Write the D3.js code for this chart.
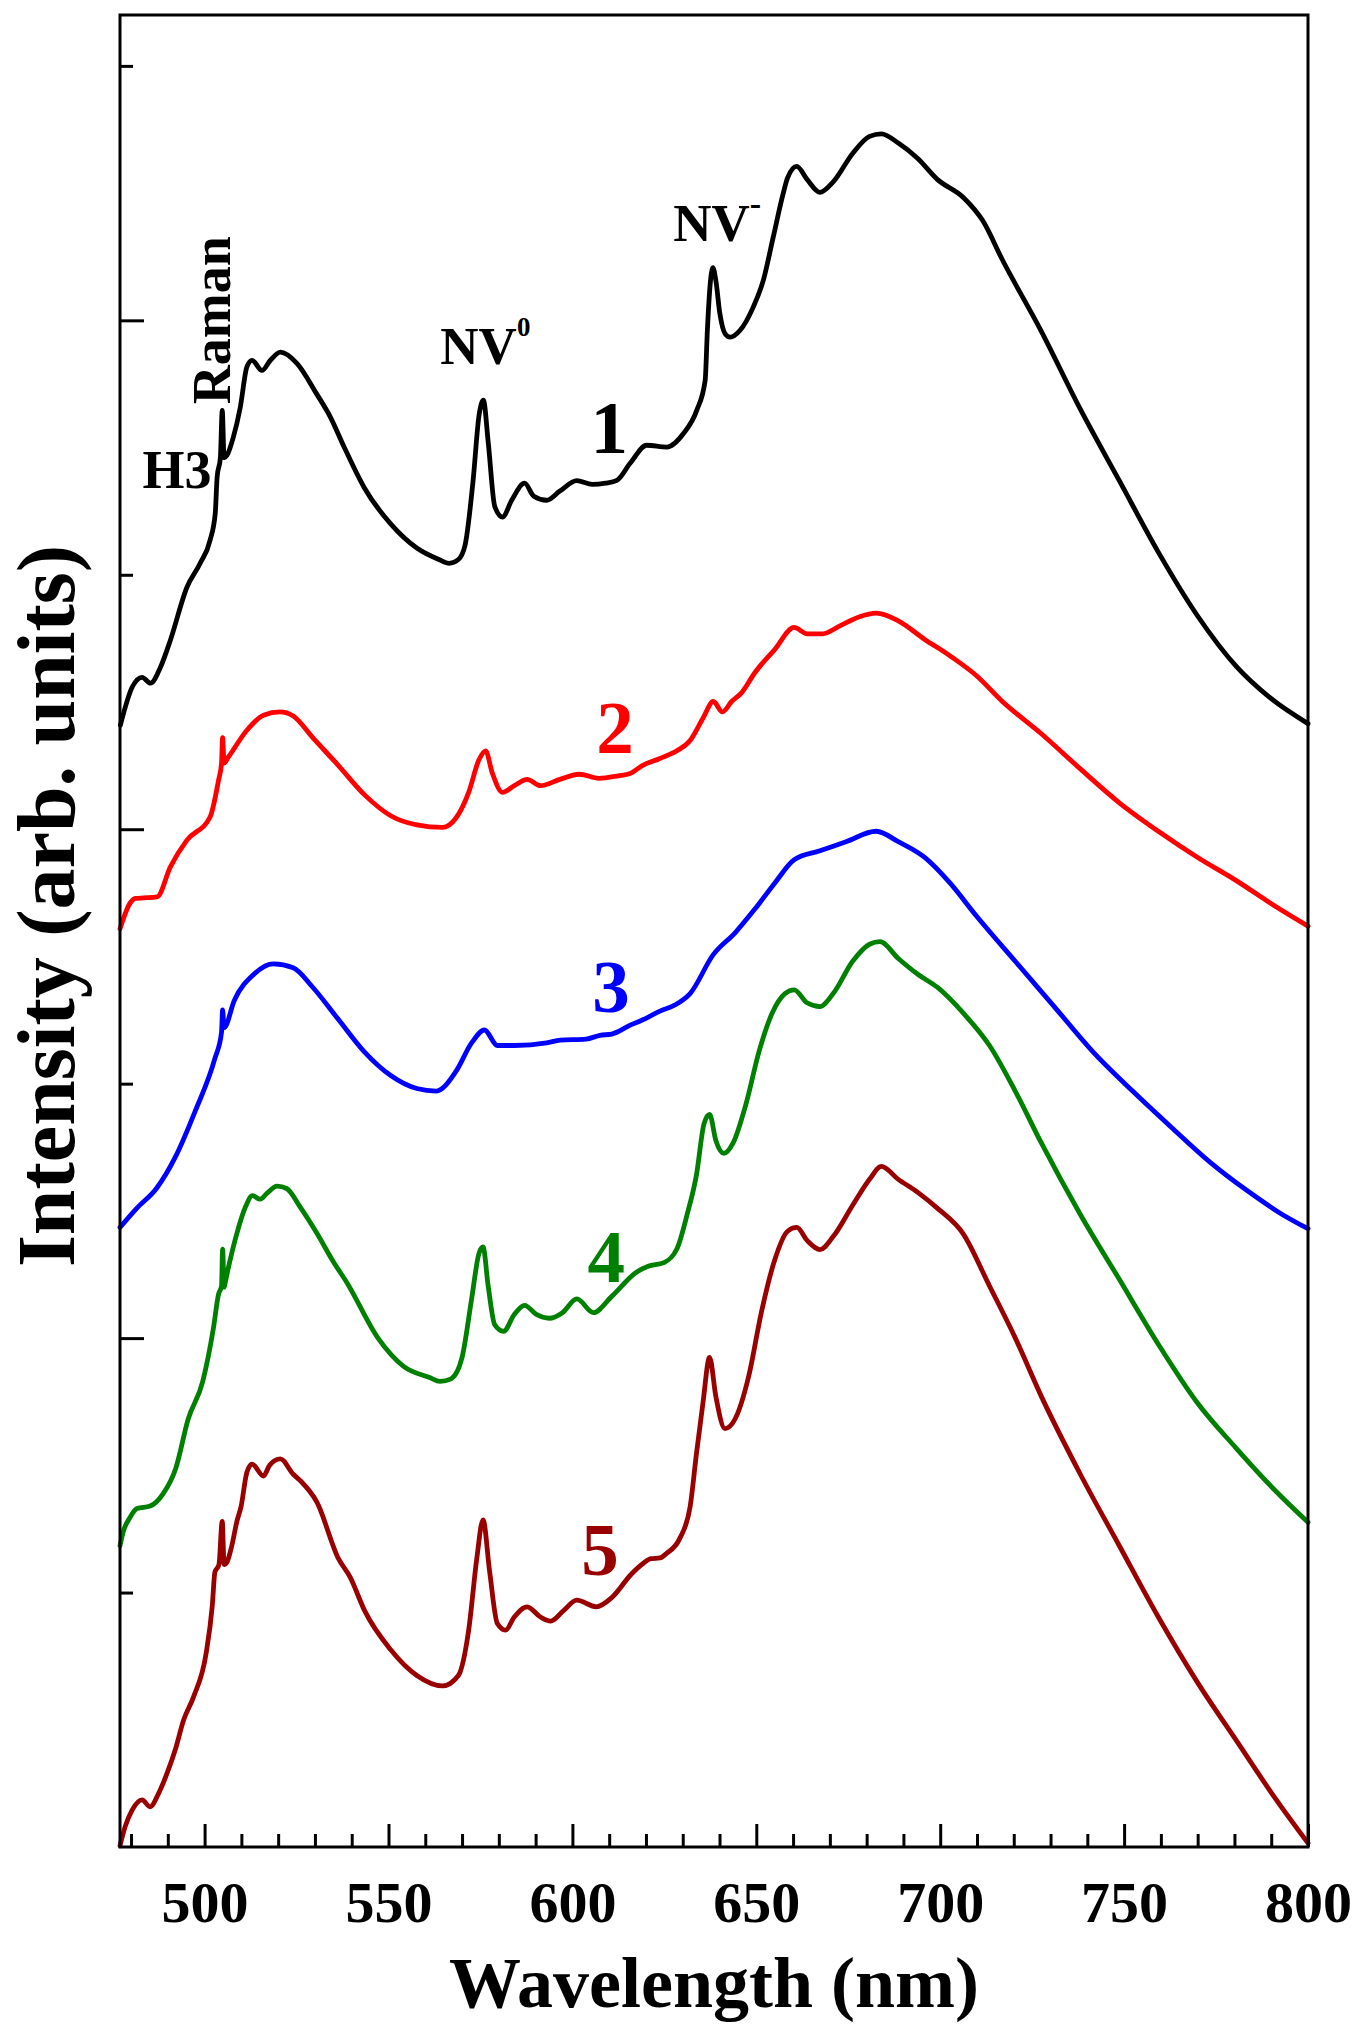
<!DOCTYPE html>
<html><head><meta charset="utf-8">
<script src="https://cdn.jsdelivr.net/npm/d3@7/dist/d3.min.js"></script>
<style>
html,body{margin:0;padding:0;background:#fff;}
text{font-family:"Liberation Serif","Times New Roman",serif;font-weight:bold;}
</style></head>
<body><svg id="chart" width="1364" height="2040"></svg>
<script>
// ---- data: [wavelength nm, intensity arb. units] ----
const series1 = [[477.1,44.09],[480.3,45.58],[483.0,45.97],[485.3,45.74],[488.0,46.37],[490.7,47.43],[495.2,49.51],[498.8,50.45],[501.5,51.36],[502.9,52.42],[503.4,53.83],[504.3,54.62],[504.8,56.46],[505.3,54.6],[506.1,54.70],[507.8,55.40],[509.7,56.58],[511.5,58.17],[512.9,58.43],[515.6,58.03],[517.9,58.43],[520.6,58.75],[525.1,58.31],[530.5,57.1],[534.2,56.2],[538.0,55.0],[543.5,53.4],[550.6,52.0],[557.7,51.05],[563.7,50.6],[566.5,50.45],[569.0,50.6],[570.8,51.15],[573.0,53.70],[574.6,56.25],[575.8,56.86],[577.1,55.23],[578.9,52.68],[581.0,52.27],[583.5,52.93],[587.0,53.60],[589.5,53.09],[593.0,52.93],[596.6,53.29],[601.2,53.70],[605.4,53.55],[609.0,53.60],[612.1,53.71],[615.7,54.38],[620.2,55.09],[625.7,55.02],[630.2,55.55],[633.8,56.46],[636.1,57.64],[636.7,59.61],[637.4,61.31],[638.2,62.07],[639.0,61.57],[640.1,60.26],[641.5,59.48],[642.9,59.34],[645.6,59.61],[649.2,60.53],[651.9,61.57],[654.6,63.27],[657.3,64.98],[658.5,65.60],[661.0,66.05],[663.8,65.54],[667.3,65.03],[670.9,65.44],[676.2,66.56],[680.8,67.23],[684.0,67.33],[688.6,66.97],[693.9,66.36],[699.2,65.54],[706.3,64.83],[711.6,63.91],[716.9,62.38],[727.5,59.57],[738.1,56.51],[748.7,53.70],[759.3,50.89],[769.9,48.4],[780.5,46.4],[789.4,45.2],[800.0,44.15]];
const series2 = [[477.0,36.09],[479.8,37.11],[481.2,37.28],[483.5,37.30],[487.1,37.34],[490.7,38.52],[495.2,39.57],[501.5,40.48],[503.8,41.93],[504.6,42.58],[504.9,43.6],[505.3,42.6],[506.5,42.84],[511.5,43.89],[516.0,44.48],[520.5,44.61],[524.1,44.45],[529.4,43.6],[536.4,42.5],[543.5,41.35],[550.6,40.53],[557.7,40.17],[564.7,40.07],[568.3,40.43],[571.8,41.45],[574.6,42.73],[576.4,43.08],[578.2,42.22],[581.0,41.45],[584.2,41.71],[587.7,41.96],[591.3,41.71],[596.6,41.96],[601.9,42.16],[607.2,42.00],[612.5,42.10],[615.7,42.19],[619.0,42.5],[623.8,42.78],[628.4,43.08],[632.0,43.49],[635.5,44.36],[638.3,45.02],[640.8,44.61],[643.3,45.02],[646.1,45.38],[649.6,46.15],[655.0,47.06],[660.3,47.93],[663.8,47.68],[668.0,47.68],[672.6,47.98],[677.9,48.34],[682.6,48.49],[688.6,48.19],[695.7,47.47],[702.7,46.81],[709.8,46.04],[716.9,45.02],[727.5,43.75],[738.1,42.37],[748.7,41.04],[759.3,39.92],[769.9,38.90],[780.5,37.98],[791.2,36.96],[800.0,36.19]];
const series3 = [[477.0,24.35],[481.6,25.11],[486.9,25.88],[492.2,27.16],[497.5,28.94],[502.8,30.99],[504.6,32.01],[504.9,32.9],[505.3,32.2],[508.1,33.28],[513.4,34.30],[518.7,34.71],[524.1,34.56],[529.4,33.79],[536.4,32.52],[543.5,31.24],[550.6,30.32],[557.7,29.81],[563.0,29.71],[568.3,30.47],[572.6,31.60],[576.1,32.11],[579.6,31.50],[584.2,31.50],[593.0,31.60],[596.7,31.71],[603.7,31.75],[607.5,31.90],[610.7,31.95],[615.7,32.30],[619.0,32.5],[623.8,32.85],[628.0,33.1],[632.0,33.54],[638.3,35.07],[644.3,35.94],[649.6,36.86],[655.0,37.88],[660.3,38.80],[667.3,39.15],[674.4,39.51],[682.6,39.92],[688.6,39.51],[695.7,38.90],[702.7,37.88],[709.8,36.60],[720.4,34.81],[731.0,33.03],[741.6,31.24],[752.3,29.71],[762.9,28.28],[773.5,26.90],[784.1,25.73],[793.0,24.86],[800.0,24.30]];
const series4 = [[477.0,11.84],[477.8,12.35],[479.8,12.97],[481.6,13.30],[485.2,13.40],[488.7,13.88],[492.2,14.9],[495.5,16.8],[499.5,18.3],[502.4,20.39],[503.8,21.73],[504.6,22.05],[504.9,23.5],[505.3,22.0],[505.6,22.18],[506.5,22.79],[508.8,24.13],[511.1,25.15],[513.0,25.6],[515.1,25.46],[517.0,25.7],[519.7,25.97],[522.3,25.88],[526.0,25.15],[530.5,24.13],[535.0,23.0],[538.7,22.18],[547.1,20.01],[554.1,18.89],[561.2,18.45],[564.0,18.3],[567.0,18.4],[570.0,19.24],[572.6,21.54],[574.6,23.33],[575.7,23.58],[577.1,22.05],[578.9,20.52],[581.3,20.27],[584.2,20.93],[587.0,21.29],[590.2,20.93],[593.7,20.78],[597.3,21.0],[601.2,21.54],[605.7,21.0],[610.7,21.64],[617.5,22.6],[620.6,22.82],[624.9,22.97],[628.4,23.5],[631.2,24.86],[633.7,26.39],[635.8,28.43],[637.3,28.79],[639.0,27.77],[641.2,27.26],[643.7,27.67],[647.2,29.20],[650.7,31.24],[654.3,32.77],[657.8,33.54],[660.3,33.69],[663.8,33.18],[667.3,33.03],[670.9,33.54],[676.2,34.81],[680.8,35.48],[683.6,35.58],[688.6,34.92],[693.9,34.30],[699.2,33.79],[706.3,32.77],[713.4,31.50],[720.4,29.71],[727.5,27.67],[738.1,24.86],[748.7,22.31],[759.3,19.76],[769.9,17.46],[780.5,15.67],[791.2,13.99],[800.0,12.76]];
const series5 = [[477.0,0.05],[478.4,0.80],[480.3,1.45],[483.0,1.85],[485.2,1.58],[487.5,2.11],[489.8,2.90],[492.0,3.81],[494.3,4.99],[497.0,5.9],[500.4,7.6],[502.1,9.5],[502.8,10.8],[503.9,11.1],[504.8,12.8],[505.3,11.1],[506.1,11.2],[507.4,11.84],[508.8,12.81],[509.9,13.37],[511.5,14.73],[512.9,15.05],[516.0,14.58],[517.7,15.01],[520.6,15.25],[524.1,14.65],[526.0,14.4],[530.5,13.56],[536.4,11.33],[539.6,10.6],[543.5,9.29],[550.6,7.75],[557.7,6.74],[564.7,6.33],[569.0,6.74],[571.8,8.52],[574.0,11.33],[575.7,12.86],[577.5,10.82],[579.6,8.78],[581.8,8.52],[584.2,9.04],[587.7,9.44],[591.3,9.04],[594.1,8.88],[597.6,9.29],[601.2,9.70],[606.5,9.44],[610.7,9.8],[616.0,10.72],[619.3,11.15],[621.3,11.33],[623.8,11.36],[625.6,11.54],[629.1,12.10],[632.0,13.37],[633.7,15.42],[635.5,17.46],[637.3,19.24],[639.0,17.71],[641.5,16.44],[644.3,16.84],[647.9,18.48],[651.4,21.03],[655.0,23.07],[658.5,24.20],[661.0,24.35],[663.8,23.84],[667.3,23.48],[670.9,23.99],[676.2,25.22],[680.8,26.24],[684.0,26.75],[688.6,26.24],[693.9,25.73],[699.2,25.11],[706.3,24.09],[713.4,22.05],[720.4,20.01],[727.5,17.71],[738.1,14.65],[748.7,11.84],[759.3,9.04],[769.9,6.48],[780.5,4.19],[791.2,1.89],[800.0,0.15]];

const seriesList = [series1, series2, series3, series4, series5];
const seriesColors = ["#000000", "#ff0000", "#0000ff", "#008000", "#990000"];
const seriesNames = ["1", "2", "3", "4", "5"];
const seriesLabelPos = [[610.0,54.8],[611.6,43.0],[610.5,32.8],[609.2,22.2],[607.5,10.7]];

const xMajorTicks = [500, 550, 600, 650, 700, 750, 800];
const xMinorTicks = d3.range(480, 801, 10).filter(v => v % 50 !== 0);
const yMajorTicks = [20, 40, 60];
const yMinorTicks = [10, 30, 50, 70];
const xDomain = [477, 800];
const yDomain = [0, 72];
const xTitle = "Wavelength (nm)";
const yTitle = "Intensity (arb. units)";

// ---- layout ----
const svg = d3.select("#chart");
const L = 120, R = 1308, T = 15, B = 1847;
const x = d3.scaleLinear().domain(xDomain).range([L, R]);
const y = d3.scaleLinear().domain(yDomain).range([B, T]);

// curves
const line = d3.line().curve(d3.curveMonotoneX).x(d => x(d[0])).y(d => y(d[1]));
seriesList.forEach((s, i) => {
  svg.append("path").datum(s).attr("d", line)
    .attr("fill", "none").attr("stroke", seriesColors[i])
    .attr("stroke-width", 4.8).attr("stroke-linejoin", "round").attr("stroke-linecap", "round");
});

// axes
function styleAxis(g) {
  g.select(".domain").remove();
  g.selectAll(".tick line").attr("stroke", "#000").attr("stroke-width", 3);
}
svg.append("g").attr("transform", `translate(0,${B})`)
  .call(d3.axisBottom(x).tickValues(xMinorTicks).tickSize(-13).tickFormat(""))
  .call(styleAxis);
const xg = svg.append("g").attr("transform", `translate(0,${B})`)
  .call(d3.axisBottom(x).tickValues(xMajorTicks).tickSize(-23).tickPadding(34).tickFormat(d3.format("d")))
  .call(styleAxis);
xg.selectAll(".tick text").attr("font-size", 58).attr("fill", "#000")
  .attr("font-family", "'Liberation Serif','Times New Roman',serif").attr("font-weight", "bold");

svg.append("g").attr("transform", `translate(${L},0)`)
  .call(d3.axisLeft(y).tickValues(yMinorTicks).tickSize(-13).tickFormat(""))
  .call(styleAxis);
svg.append("g").attr("transform", `translate(${L},0)`)
  .call(d3.axisLeft(y).tickValues(yMajorTicks).tickSize(-24).tickFormat(""))
  .call(styleAxis);

// frame
svg.append("rect").attr("x", L).attr("y", T).attr("width", R - L).attr("height", B - T)
  .attr("fill", "none").attr("stroke", "#000").attr("stroke-width", 3);

// axis titles
svg.append("text").attr("x", (L + R) / 2).attr("y", 2007).attr("text-anchor", "middle")
  .attr("font-size", 72).text(xTitle);
svg.append("text").attr("transform", `translate(74,${906}) rotate(-90)`).attr("text-anchor", "middle")
  .attr("font-size", 82).text(yTitle);

// series number labels
seriesNames.forEach((n, i) => {
  svg.append("text").attr("x", x(seriesLabelPos[i][0])).attr("y", y(seriesLabelPos[i][1]))
    .attr("text-anchor", "middle").attr("font-size", 75).attr("fill", seriesColors[i]).text(n);
});

// peak annotations
svg.append("text").attr("x", x(483.1)).attr("y", y(53.4)).attr("font-size", 54).text("H3");
svg.append("text").attr("transform", `translate(${x(507.0)},${y(60.0)}) rotate(-90)`)
  .attr("text-anchor", "middle").attr("font-size", 54).text("Raman");
const nv0 = svg.append("text").attr("x", x(564.1)).attr("y", y(58.3)).attr("font-size", 53);
nv0.append("tspan").text("NV");
nv0.append("tspan").attr("font-size", 27).attr("dy", -28).text("0");
const nvm = svg.append("text").attr("x", x(627.4)).attr("y", y(63.1)).attr("font-size", 53);
nvm.append("tspan").text("NV");
nvm.append("tspan").attr("font-size", 34).attr("dy", -26).text("-");
</script></body></html>
